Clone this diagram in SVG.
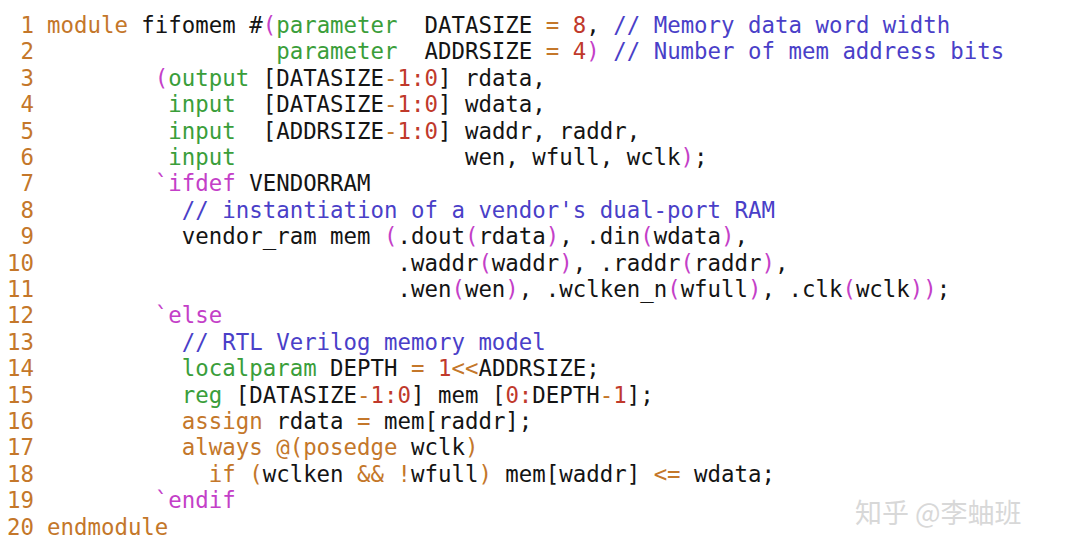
<svg xmlns="http://www.w3.org/2000/svg" width="1080" height="555" viewBox="0 0 1080 555">
<style>
text{font-family:"DejaVu Sans Mono","Liberation Mono",monospace;font-size:22.4px;fill:#141414;white-space:pre}
.ln{fill:#c4772a;text-anchor:end}
.o{fill:#c4772a}.g{fill:#3a9e3a}.p{fill:#c43fc8}.n{fill:#c0392b}.c{fill:#4a3fc8}
.wm{font-family:"Noto Sans CJK SC",sans-serif;font-size:27px;fill:#d8d8d8}
</style>
<rect width="1080" height="555" fill="#fff"/>
<g id="linenumbers">
<text class="ln" x="34" y="33">1</text><text class="ln" x="34" y="59.4">2</text><text class="ln" x="34" y="85.8">3</text><text class="ln" x="34" y="112.2">4</text><text class="ln" x="34" y="138.6">5</text><text class="ln" x="34" y="165">6</text><text class="ln" x="34" y="191.4">7</text><text class="ln" x="34" y="217.8">8</text><text class="ln" x="34" y="244.2">9</text><text class="ln" x="34" y="270.6">10</text><text class="ln" x="34" y="297">11</text><text class="ln" x="34" y="323.4">12</text><text class="ln" x="34" y="349.8">13</text><text class="ln" x="34" y="376.2">14</text><text class="ln" x="34" y="402.6">15</text><text class="ln" x="34" y="429">16</text><text class="ln" x="34" y="455.4">17</text><text class="ln" x="34" y="481.8">18</text><text class="ln" x="34" y="508.2">19</text><text class="ln" x="34" y="534.6">20</text>
</g>
<g id="code" xml:space="preserve">
<text x="47" y="33"><tspan class="o">module</tspan> fifomem #<tspan class="p">(</tspan><tspan class="g">parameter</tspan>  DATASIZE <tspan class="o">=</tspan> <tspan class="n">8</tspan>, <tspan class="c">// Memory data word width</tspan></text>
<text x="47" y="59.4">                 <tspan class="g">parameter</tspan>  ADDRSIZE <tspan class="o">=</tspan> <tspan class="n">4</tspan><tspan class="p">)</tspan> <tspan class="c">// Number of mem address bits</tspan></text>
<text x="47" y="85.8">        <tspan class="p">(</tspan><tspan class="g">output</tspan> [DATASIZE<tspan class="o">-</tspan><tspan class="n">1:0</tspan>] rdata,</text>
<text x="47" y="112.2">         <tspan class="g">input</tspan>  [DATASIZE<tspan class="o">-</tspan><tspan class="n">1:0</tspan>] wdata,</text>
<text x="47" y="138.6">         <tspan class="g">input</tspan>  [ADDRSIZE<tspan class="o">-</tspan><tspan class="n">1:0</tspan>] waddr, raddr,</text>
<text x="47" y="165">         <tspan class="g">input</tspan>                 wen, wfull, wclk<tspan class="p">)</tspan>;</text>
<text x="47" y="191.4">        <tspan class="p">`ifdef</tspan> VENDORRAM</text>
<text x="47" y="217.8">          <tspan class="c">// instantiation of a vendor's dual-port RAM</tspan></text>
<text x="47" y="244.2">          vendor_ram mem <tspan class="p">(</tspan>.dout<tspan class="p">(</tspan>rdata<tspan class="p">)</tspan>, .din<tspan class="p">(</tspan>wdata<tspan class="p">)</tspan>,</text>
<text x="47" y="270.6">                          .waddr<tspan class="p">(</tspan>waddr<tspan class="p">)</tspan>, .raddr<tspan class="p">(</tspan>raddr<tspan class="p">)</tspan>,</text>
<text x="47" y="297">                          .wen<tspan class="p">(</tspan>wen<tspan class="p">)</tspan>, .wclken_n<tspan class="p">(</tspan>wfull<tspan class="p">)</tspan>, .clk<tspan class="p">(</tspan>wclk<tspan class="p">))</tspan>;</text>
<text x="47" y="323.4">        <tspan class="p">`else</tspan></text>
<text x="47" y="349.8">          <tspan class="c">// RTL Verilog memory model</tspan></text>
<text x="47" y="376.2">          <tspan class="g">localparam</tspan> DEPTH <tspan class="o">=</tspan> <tspan class="n">1</tspan><tspan class="o">&lt;&lt;</tspan>ADDRSIZE;</text>
<text x="47" y="402.6">          <tspan class="g">reg</tspan> [DATASIZE<tspan class="o">-</tspan><tspan class="n">1:0</tspan>] mem [<tspan class="n">0:</tspan>DEPTH<tspan class="o">-</tspan><tspan class="n">1</tspan>];</text>
<text x="47" y="429">          <tspan class="o">assign</tspan> rdata <tspan class="o">=</tspan> mem[raddr];</text>
<text x="47" y="455.4">          <tspan class="o">always @(posedge</tspan> wclk<tspan class="o">)</tspan></text>
<text x="47" y="481.8">            <tspan class="o">if (</tspan>wclken <tspan class="o">&amp;&amp; !</tspan>wfull<tspan class="o">)</tspan> mem[waddr] <tspan class="o">&lt;=</tspan> wdata;</text>
<text x="47" y="508.2">        <tspan class="p">`endif</tspan></text>
<text x="47" y="534.6"><tspan class="o">endmodule</tspan></text>
</g>
<text class="wm" x="855" y="523">知乎 @李蚰班</text>
</svg>
